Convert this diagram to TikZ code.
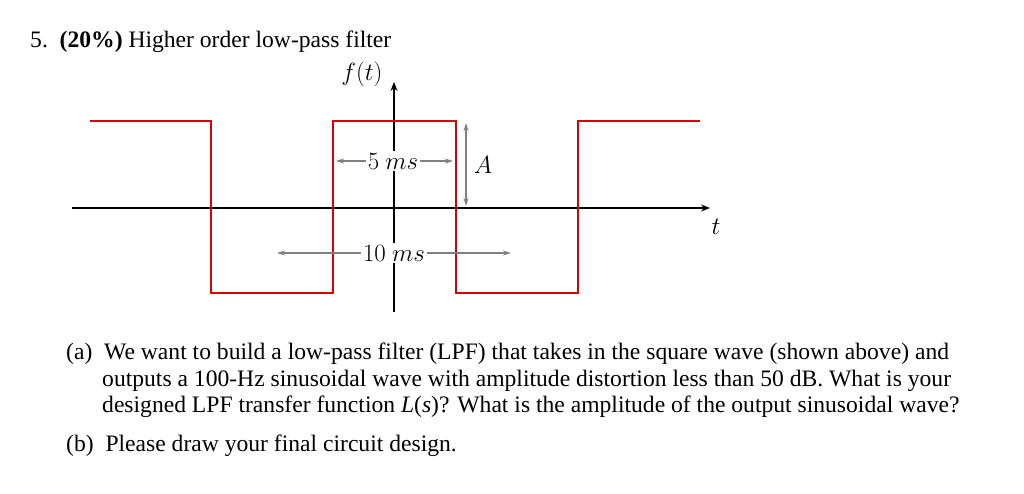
\documentclass[tikz,border=0pt]{standalone}
\usepackage{fontspec}
\setmainfont{Liberation Serif}
\usetikzlibrary{arrows.meta}
\begin{document}
\begin{tikzpicture}[x=1pt,y=-1pt,
  wave/.style={draw=red!85!black,line width=2.8pt},
  axis/.style={draw=black,line width=1.3pt,-{Stealth[length=9pt,width=7pt]}},
  dim/.style={draw=gray,line width=1.1pt,{Stealth[length=8pt,width=5pt]}-{Stealth[length=8pt,width=5pt]}},
  lbl/.style={fill=white,inner sep=2pt,font=\fontsize{25}{30}\selectfont},
  txt/.style={anchor=base west,inner sep=0pt,font=\fontsize{23.6}{28}\selectfont}]
\useasboundingbox (0,0) rectangle (1024,493);
\coordinate (ha) at (72,208); \coordinate (hb) at (710,208);
\coordinate (va) at (394,312); \coordinate (vb) at (394,82);
\draw[axis] (ha) -- (hb);
\draw[axis] (va) -- (vb);
\draw[wave] (90,121) -- (211,121) -- (211,293) -- (333,293) -- (333,121) -- (456,121) -- (456,293) -- (578,293) -- (578,121) -- (700,121);
\coordinate (d1) at (336,161); \coordinate (d2) at (453,161);
\draw[dim] (d1) -- (d2);
\node[lbl] (five) at (393,161) {$5\ ms$};
\coordinate (d3) at (277,253); \coordinate (d4) at (511,253);
\draw[dim] (d3) -- (d4);
\node[lbl] (ten) at (394,253) {$10\ ms$};
\coordinate (a1) at (466,123); \coordinate (a2) at (466,206);
\draw[dim] (a1) -- (a2);
\node[lbl,fill=none] (A) at (483,165) {$A$};
\node[lbl,fill=none] (t) at (716,227) {$t$};
\node[lbl,fill=none] (f) at (362,74) {$f(t)$};
\node[txt] (title) at (30,47) {5.\ \ \textbf{(20\%)} Higher order low-pass filter};
\node[txt] (pa1) at (66,359) {(a)\ \ We want to build a low-pass filter (LPF) that takes in the square wave (shown above) and};
\node[txt] (pa2) at (102,386) {outputs a 100-Hz sinusoidal wave with amplitude distortion less than 50 dB. What is your};
\node[txt] (pa3) at (102,412) {designed LPF transfer function \textit{L}(\textit{s})? What is the amplitude of the output sinusoidal wave?};
\node[txt] (pb) at (66,451) {(b)\ \ Please draw your final circuit design.};
\end{tikzpicture}
\end{document}
